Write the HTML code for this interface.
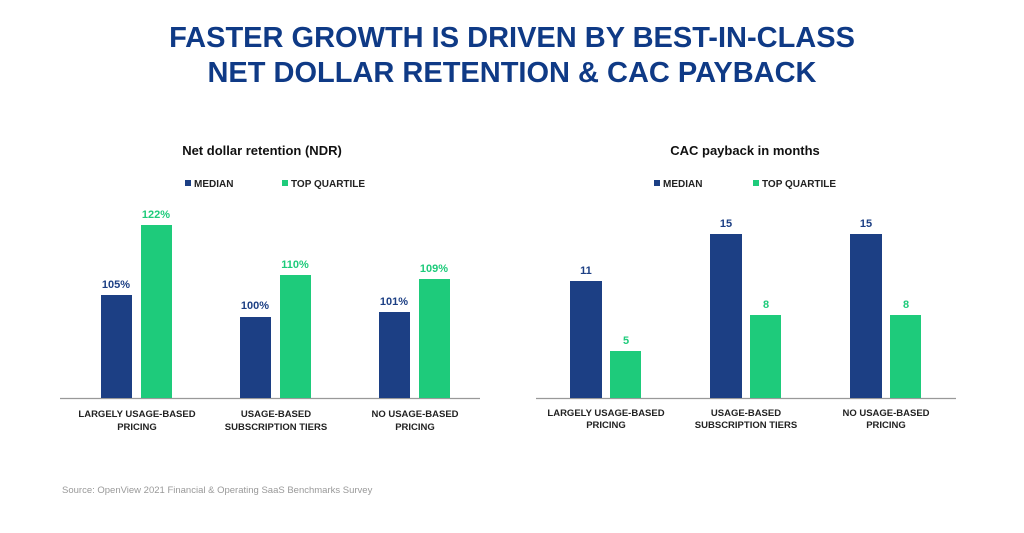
<!DOCTYPE html>
<html><head><meta charset="utf-8"><style>
body{margin:0;background:#fff;width:1024px;height:528px;overflow:hidden;font-family:"Liberation Sans",sans-serif}
</style></head><body>
<svg width="1024" height="528" xmlns="http://www.w3.org/2000/svg" font-family="Liberation Sans, sans-serif">
<g fill="#0f3a86" font-weight="bold" font-size="29" text-anchor="middle">
<text x="512" y="47">FASTER GROWTH IS DRIVEN BY BEST-IN-CLASS</text>
<text x="512" y="82">NET DOLLAR RETENTION &amp; CAC PAYBACK</text>
</g>
<g font-weight="bold" font-size="13" fill="#111" text-anchor="middle">
<text x="262" y="155">Net dollar retention (NDR)</text>
<text x="745" y="155">CAC payback in months</text>
</g>
<g font-weight="bold" font-size="10" fill="#222">
<rect x="185" y="180" width="6" height="6" fill="#1c3f84"/><text x="194" y="187">MEDIAN</text>
<rect x="282" y="180" width="6" height="6" fill="#1ecb7b"/><text x="291" y="187">TOP QUARTILE</text>
<rect x="654" y="180" width="6" height="6" fill="#1c3f84"/><text x="663" y="187">MEDIAN</text>
<rect x="753" y="180" width="6" height="6" fill="#1ecb7b"/><text x="762" y="187">TOP QUARTILE</text>
</g>
<line x1="60" y1="398.5" x2="480" y2="398.5" stroke="#999" stroke-width="1.2"/>
<line x1="536" y1="398.5" x2="956" y2="398.5" stroke="#999" stroke-width="1.2"/>
<g fill="#1c3f84">
<rect x="101" y="295" width="31" height="103"/>
<rect x="240" y="317" width="31" height="81"/>
<rect x="379" y="312" width="31" height="86"/>
<rect x="570" y="281" width="32" height="117"/>
<rect x="710" y="234" width="32" height="164"/>
<rect x="850" y="234" width="32" height="164"/>
</g>
<g fill="#1ecb7b">
<rect x="141" y="225" width="31" height="173"/>
<rect x="280" y="275" width="31" height="123"/>
<rect x="419" y="279" width="31" height="119"/>
<rect x="610" y="351" width="31" height="47"/>
<rect x="750" y="315" width="31" height="83"/>
<rect x="890" y="315" width="31" height="83"/>
</g>
<g font-weight="bold" font-size="11" text-anchor="middle">
<g fill="#1c3f84">
<text x="116" y="288">105%</text><text x="255" y="309">100%</text><text x="394" y="305">101%</text>
<text x="586" y="274">11</text><text x="726" y="227">15</text><text x="866" y="227">15</text>
</g>
<g fill="#1ecb7b">
<text x="156" y="218">122%</text><text x="295" y="268">110%</text><text x="434" y="272">109%</text>
<text x="626" y="344">5</text><text x="766" y="308">8</text><text x="906" y="308">8</text>
</g>
</g>
<g font-weight="bold" font-size="9.5" fill="#222" text-anchor="middle">
<text x="137" y="417">LARGELY USAGE-BASED</text><text x="137" y="430">PRICING</text>
<text x="276" y="417">USAGE-BASED</text><text x="276" y="430">SUBSCRIPTION TIERS</text>
<text x="415" y="417">NO USAGE-BASED</text><text x="415" y="430">PRICING</text>
<text x="606" y="416">LARGELY USAGE-BASED</text><text x="606" y="428">PRICING</text>
<text x="746" y="416">USAGE-BASED</text><text x="746" y="428">SUBSCRIPTION TIERS</text>
<text x="886" y="416">NO USAGE-BASED</text><text x="886" y="428">PRICING</text>
</g>
<text x="62" y="493" font-size="9.5" fill="#999">Source: OpenView 2021 Financial &amp; Operating SaaS Benchmarks Survey</text>
</svg>
</body></html>
